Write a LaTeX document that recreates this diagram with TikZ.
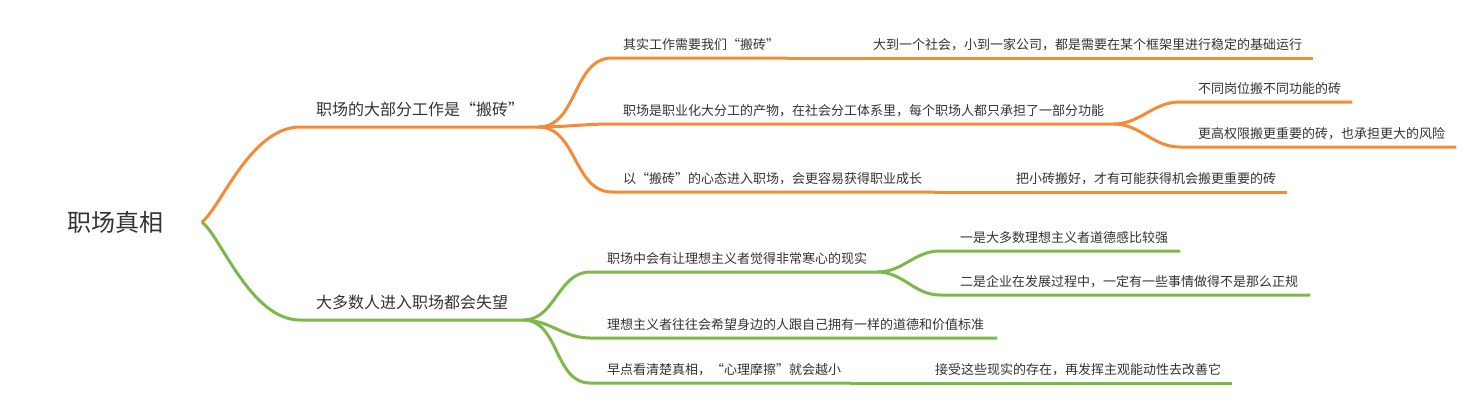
\documentclass[tikz,border=0pt]{standalone}
\usepackage{fontspec}
\setmainfont{Noto Sans CJK SC}
\definecolor{branchorange}{RGB}{246,139,55}
\definecolor{branchgreen}{RGB}{126,184,74}
\definecolor{topictext}{RGB}{51,51,51}

\begin{document}
\begin{tikzpicture}[
    x=1pt, y=-1pt,
    root/.style={font=\fontsize{24}{28}\selectfont, text=topictext, inner xsep=38pt, inner ysep=4pt},
    topic/.style={anchor=south west, align=left, text=topictext, text depth=0pt},
    main/.style={topic, font=\fontsize{16}{19}\selectfont, inner xsep=16pt, inner ysep=11pt},
    sub/.style={topic, font=\fontsize{13}{16}\selectfont, inner ysep=8.5pt},
    obranch/.style={draw=branchorange, line width=3pt, line join=round},
    gbranch/.style={draw=branchgreen, line width=3pt, line join=round}
]
    \useasboundingbox (0,0) rectangle (1484,416);
    \node[root] (root) at (115.5,222) {职场真相};

    \node[main, text width=206pt] (o) at (300,127) {职场的大部分工作是“搬砖”};
    \node[sub, inner xsep=11pt, text width=154pt] (o1) at (612,58) {其实工作需要我们“搬砖”};
    \node[sub, inner xsep=13pt, text width=427pt] (o1c) at (860,58) {大到一个社会，小到一家公司，都是需要在某个框架里进行稳定的基础运行};
    \node[sub, inner xsep=11pt, text width=479pt] (o2) at (612,124) {职场是职业化大分工的产物，在社会分工体系里，每个职场人都只承担了一部分功能};
    \node[sub, inner xsep=18pt, text width=136pt] (o2a) at (1180,102) {不同岗位搬不同功能的砖};
    \node[sub, inner xsep=18pt, text width=240pt] (o2b) at (1180,147) {更高权限搬更重要的砖，也承担更大的风险};
    \node[sub, inner xsep=11pt, text width=300pt] (o3) at (612,192) {以“搬砖”的心态进入职场，会更容易获得职业成长};
    \node[sub, inner xsep=13pt, text width=258pt] (o3c) at (1003,192) {把小砖搬好，才有可能获得机会搬更重要的砖};

    \node[main, text width=191pt] (g) at (300,320) {大多数人进入职场都会失望};
    \node[sub, inner xsep=17pt, text width=253pt] (g1) at (590,272) {职场中会有让理想主义者觉得非常寒心的现实};
    \node[sub, inner xsep=20pt, text width=200pt] (g1a) at (940,251) {一是大多数理想主义者道德感比较强};
    \node[sub, inner xsep=20pt, text width=330pt] (g1b) at (940,295) {二是企业在发展过程中，一定有一些事情做得不是那么正规};
    \node[sub, inner xsep=17pt, text width=373pt] (g2) at (590,338) {理想主义者往往会希望身边的人跟自己拥有一样的道德和价值标准};
    \node[sub, inner xsep=17pt, text width=226pt] (g3) at (590,383) {早点看清楚真相，“心理摩擦”就会越小};
    \node[sub, inner xsep=13pt, text width=284pt] (g3c) at (922,383) {接受这些现实的存在，再发挥主观能动性去改善它};

    \draw[obranch] (root.east) .. controls +(18,-12) and +(-50,0) .. (o.south west) -- (o.south east);
    \draw[obranch] (o.south east) to[out=0, in=180] (o1.south west) -- (o1.south east);
    \draw[obranch] (o1.south east) -- (o1c.south west) -- (o1c.south east);
    \draw[obranch] (o.south east) to[out=0, in=180] (o2.south west) -- (o2.south east);
    \draw[obranch] (o2.south east) to[out=0, in=180] (o2a.south west) -- (o2a.south east);
    \draw[obranch] (o2.south east) to[out=0, in=180] (o2b.south west) -- (o2b.south east);
    \draw[obranch] (o.south east) to[out=0, in=180] (o3.south west) -- (o3.south east);
    \draw[obranch] (o3.south east) -- (o3c.south west) -- (o3c.south east);

    \draw[gbranch] (root.east) .. controls +(18,12) and +(-50,0) .. (g.south west) -- (g.south east);
    \draw[gbranch] (g.south east) to[out=0, in=180] (g1.south west) -- (g1.south east);
    \draw[gbranch] (g1.south east) to[out=0, in=180] (g1a.south west) -- (g1a.south east);
    \draw[gbranch] (g1.south east) to[out=0, in=180] (g1b.south west) -- (g1b.south east);
    \draw[gbranch] (g.south east) to[out=0, in=180] (g2.south west) -- (g2.south east);
    \draw[gbranch] (g.south east) to[out=0, in=180] (g3.south west) -- (g3.south east);
    \draw[gbranch] (g3.south east) -- (g3c.south west) -- (g3c.south east);
\end{tikzpicture}
\end{document}
